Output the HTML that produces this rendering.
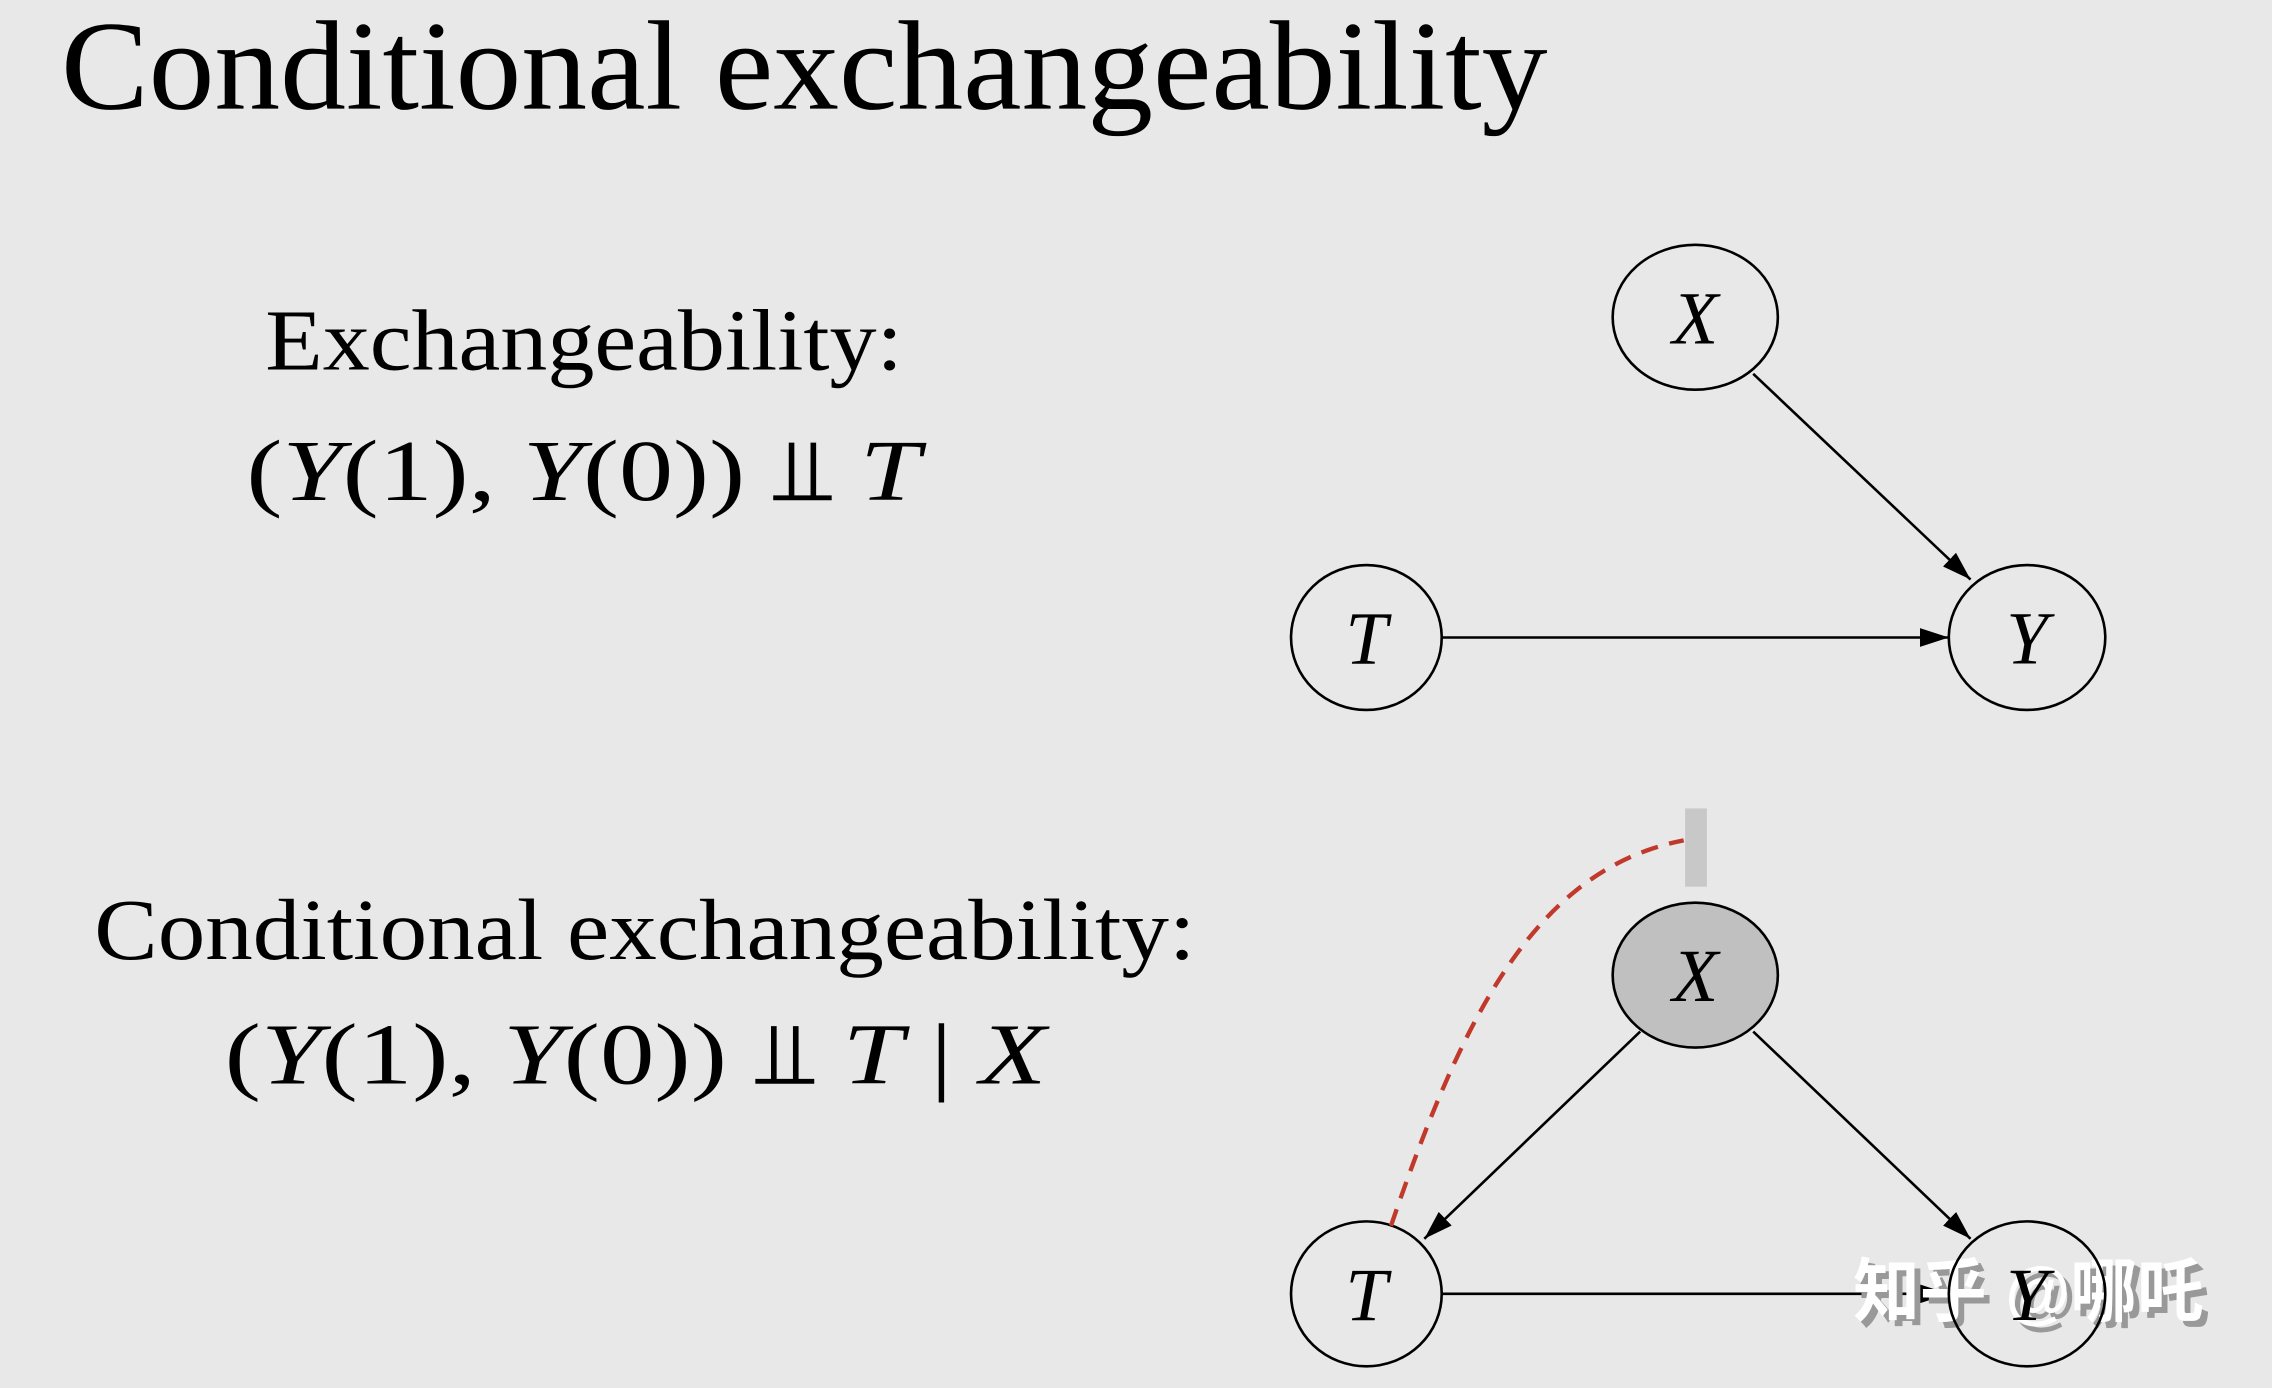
<!DOCTYPE html>
<html><head><meta charset="utf-8"><style>
html,body{margin:0;padding:0;background:#e8e8e8;}
svg{display:block;}
</style></head><body>
<svg width="2272" height="1388" viewBox="0 0 1568 958" xmlns="http://www.w3.org/2000/svg">
<defs>
<marker id="a2" viewBox="0 0 10 10" markerWidth="20" markerHeight="13" refX="10" refY="5" orient="auto" markerUnits="userSpaceOnUse" preserveAspectRatio="none"><path d="M0,0 L10,5 L0,10 z" fill="#000"/></marker>
</defs>
<rect width="1568" height="958" fill="#e8e8e8"/>
<g font-family="Liberation Serif, serif" fill="#000">
<text x="42" y="75" font-size="88" textLength="1026" lengthAdjust="spacingAndGlyphs">Conditional exchangeability</text>
<text x="183" y="255" font-size="60" textLength="440" lengthAdjust="spacingAndGlyphs">Exchangeability:</text>
<text x="170" y="345" font-size="60" textLength="465" lengthAdjust="spacingAndGlyphs">(<tspan font-style="italic">Y</tspan>(1), <tspan font-style="italic">Y</tspan>(0)) ⫫ <tspan font-style="italic">T</tspan></text>
<text x="65" y="662" font-size="60" textLength="760" lengthAdjust="spacingAndGlyphs">Conditional exchangeability:</text>
<text x="155" y="748" font-size="60" textLength="567" lengthAdjust="spacingAndGlyphs">(<tspan font-style="italic">Y</tspan>(1), <tspan font-style="italic">Y</tspan>(0)) ⫫ <tspan font-style="italic">T</tspan> | <tspan font-style="italic">X</tspan></text>
</g>
<g stroke="#000" stroke-width="1.8" fill="none">
<ellipse cx="1170" cy="219" rx="57" ry="50"/>
<ellipse cx="943" cy="440" rx="52" ry="50"/>
<ellipse cx="1399" cy="440" rx="54" ry="50"/>
<line x1="1210" y1="258" x2="1360" y2="400" marker-end="url(#a2)"/>
<line x1="995" y1="440" x2="1345" y2="440" marker-end="url(#a2)"/>
<ellipse cx="1170" cy="673" rx="57" ry="50" fill="#c0c0c0"/>
<ellipse cx="943" cy="893" rx="52" ry="50"/>
<line x1="1132" y1="712" x2="983" y2="855" marker-end="url(#a2)"/>
<line x1="1210" y1="712" x2="1360" y2="855" marker-end="url(#a2)"/>
<line x1="995" y1="893" x2="1345" y2="893" marker-end="url(#a2)"/>
</g>
<path d="M960,846 C1010,700 1060,600 1162,580" stroke="#c0392b" stroke-width="3" stroke-dasharray="12,8" fill="none"/>
<rect x="1163" y="558" width="15" height="54" fill="#c8c8c8"/>
<g font-family="Liberation Sans, Noto Sans CJK SC, sans-serif" font-size="48" font-weight="bold">
<text x="1283" y="912" fill="#999" textLength="242" lengthAdjust="spacingAndGlyphs">知乎 @哪吒</text>
<text x="1279" y="908" fill="#fff" textLength="242" lengthAdjust="spacingAndGlyphs">知乎 @哪吒</text>
</g>
<ellipse cx="1399" cy="893" rx="54" ry="50" stroke="#000" stroke-width="1.8" fill="none"/>
<g font-family="Liberation Serif, serif" font-style="italic" font-size="52" text-anchor="middle">
<text x="1170" y="237">X</text>
<text x="943" y="458">T</text>
<text x="1399" y="458">Y</text>
<text x="1170" y="691">X</text>
<text x="943" y="911">T</text>
<text x="1399" y="911">Y</text>
</g>
</svg>
</body></html>
